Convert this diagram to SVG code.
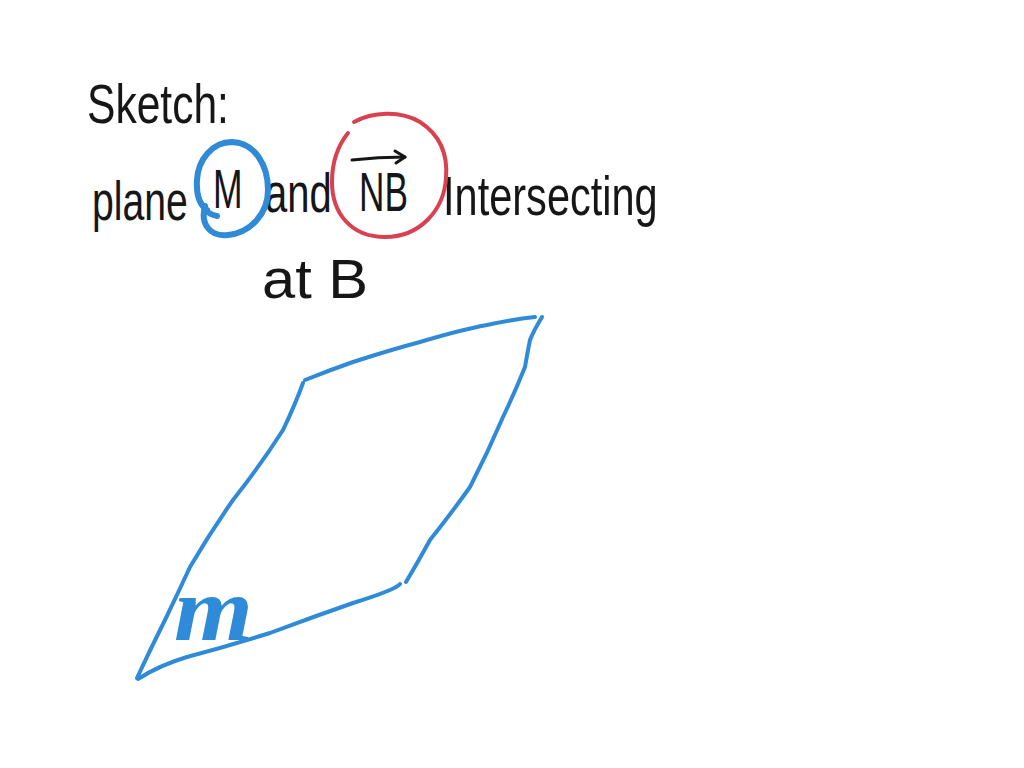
<svg xmlns="http://www.w3.org/2000/svg" width="1024" height="768" viewBox="0 0 1024 768">
<style>
.t{font-family:"Liberation Sans",Arial,sans-serif;fill:#161616;font-size:56px}
.blue{fill:none;stroke:#2F8AD8;stroke-linecap:round;stroke-linejoin:round}
.red{fill:none;stroke:#D8414F;stroke-linecap:round}
</style>
<rect width="1024" height="768" fill="#ffffff"/>
<g id="heading">
<text class="t" transform="translate(87 123) scale(0.645 1)" font-size="66" textLength="220" lengthAdjust="spacingAndGlyphs">Sketch:</text>
</g>
<g id="line2">
<text class="t" transform="translate(92 220) scale(0.7 1)" textLength="137" lengthAdjust="spacingAndGlyphs">plane</text>
<text class="t" transform="translate(213 208) scale(0.8 1)" font-size="45" textLength="37" lengthAdjust="spacingAndGlyphs">M</text>
<text class="t" transform="translate(265 212) scale(0.717 1)" textLength="93" lengthAdjust="spacingAndGlyphs">and</text>
<text class="t" transform="translate(359 211) scale(0.55 1)" font-size="64" textLength="89" lengthAdjust="spacingAndGlyphs">NB</text>
<text class="t" transform="translate(443 215) scale(0.743 1)" textLength="289" lengthAdjust="spacingAndGlyphs">Intersecting</text>
<text class="t" x="262" y="298" font-size="57" textLength="106" lengthAdjust="spacingAndGlyphs">at B</text>
</g>
<g id="ray-arrow" fill="none" stroke="#161616" stroke-width="3" stroke-linecap="round" stroke-linejoin="round">
<path d="M352 160 Q378 157 405 157"/>
<path d="M395 151 L405 157 L396 163"/>
</g>
<g id="circle-M">
<path class="blue" stroke-width="6" d="M217 216 C210 215 205 211 205 206 C200 224 210 237 228 235 C250 233 268 214 268 190 C268 165 255 143 232 142 C212 142 198 160 197 180 C196 195 200 205 207 210"/>
</g>
<g id="circle-NB">
<path class="red" stroke-width="4" d="M354 122 C372 112 400 110 420 122 C440 135 448 155 446 178 C444 210 420 237 385 237 C350 237 332 212 332 182 C332 160 340 143 348 133"/>
</g>
<g id="plane-M">
<path class="blue" stroke-width="4" d="M305 380 Q330 370 353 362 Q390 350 420 342 Q460 330 487 325 Q515 319 535 317"/>
<path class="blue" stroke-width="4" d="M542 317 Q534 330 530 340 Q527 355 525 367 Q515 392 503 417 Q488 452 470 487 Q450 515 430 540 Q418 562 406 582"/>
<path class="blue" stroke-width="4" d="M400 584 Q395 590 353 603 Q310 618 270 633 Q228 646 187 657 Q160 665 138 679"/>
<path class="blue" stroke-width="4" d="M137 678 Q150 650 165 620 Q178 593 190 567 Q210 533 233 500 Q260 466 283 430 Q295 405 303 383"/>
<text x="174" y="640" font-family="Liberation Serif,serif" font-style="italic" font-weight="bold" font-size="92" fill="#2F8AD8" textLength="79" lengthAdjust="spacingAndGlyphs">m</text>
</g>
</svg>
